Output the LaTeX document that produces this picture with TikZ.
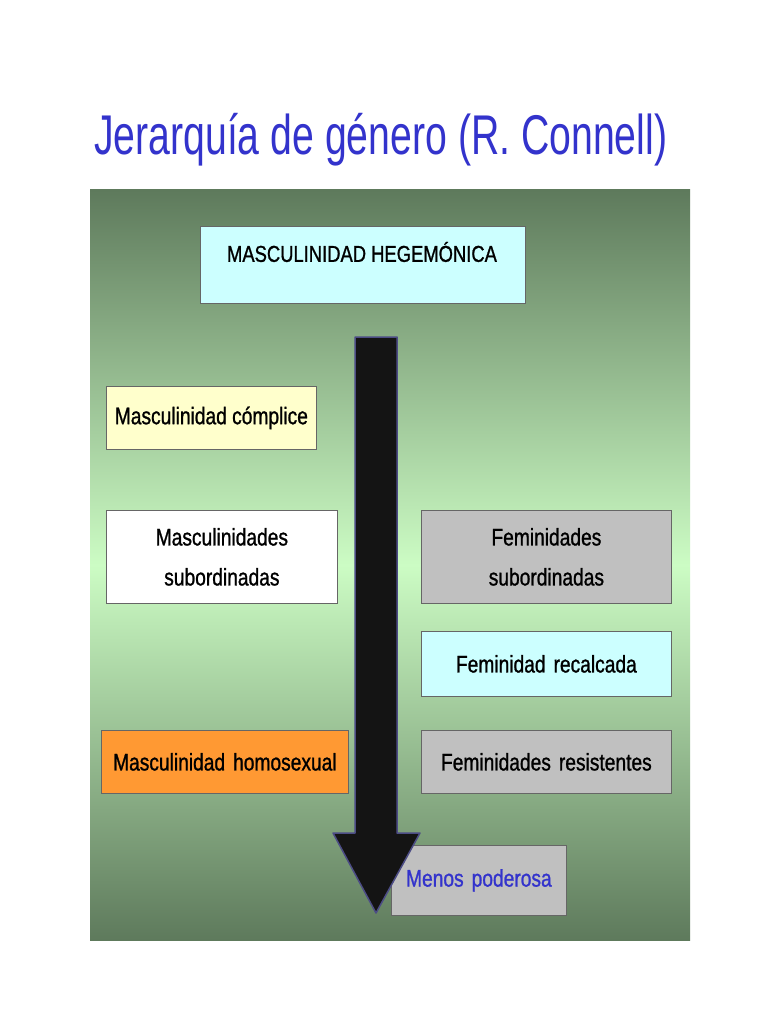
\documentclass[tikz,border=0pt]{standalone}
\usepackage{fontspec}
\newfontfamily\narrow[FakeStretch=0.7]{Liberation Sans}
\newfontfamily\boxfont[FakeStretch=0.8,FakeBold=1]{Liberation Sans}
\definecolor{ttl}{HTML}{3333CC}
\definecolor{gdark}{HTML}{5E7A5C}
\definecolor{glight}{HTML}{CCFCC4}
\definecolor{cyanbox}{HTML}{CCFFFF}
\definecolor{yelbox}{HTML}{FFFFCC}
\definecolor{graybox}{HTML}{C0C0C0}
\definecolor{orbox}{HTML}{FF9933}
\tikzset{bx/.style={draw=black!60,line width=0.8pt,anchor=north west,inner sep=0pt,align=center,font=\boxfont\fontsize{24}{40}\selectfont}}
\begin{document}
\begin{tikzpicture}[x=1pt,y=-1pt]
\useasboundingbox (0,0) rectangle (768,1024);
\fill[white] (0,0) rectangle (768,1024);
\node[anchor=west,text=ttl,font=\narrow\fontsize{56}{60}\selectfont,inner sep=0pt] (title) at (94,140) {Jerarquía de género (R. Connell)};
\shade[top color=gdark,bottom color=gdark,middle color=glight] (90,190) rectangle (690,940);
\node[bx,fill=cyanbox,minimum width=325pt,minimum height=77pt] (heg) at (200,226) {};
\node[font=\boxfont\fontsize{23}{28}\selectfont] (hegt) at (362,252) {MASCULINIDAD HEGEMÓNICA};
\node[bx,fill=yelbox,minimum width=210pt,minimum height=63pt] (comp) at (106,386) {Masculinidad cómplice};
\node[bx,fill=white,text width=231pt,minimum height=93pt] (msub) at (106,510) {Masculinidades\\subordinadas};
\node[bx,fill=graybox,text width=250pt,minimum height=93pt] (fsub) at (421,510) {Feminidades\\subordinadas};
\node[bx,fill=cyanbox,text width=250pt,minimum height=65pt] (frec) at (421,631) {Feminidad recalcada};
\node[bx,fill=orbox,text width=247pt,minimum height=63pt] (mhom) at (101,730) {Masculinidad homosexual};
\node[bx,fill=graybox,text width=250pt,minimum height=63pt] (fres) at (421,730) {Feminidades resistentes};
\node[bx,fill=graybox,text width=175pt,minimum height=70pt,text=ttl] (menos) at (391,845) {Menos poderosa};
\fill[black!92,draw=black!45!blue!40!gray,line width=1.5pt,line join=round] (355,337) -- (397,337) -- (397,833) -- (420,833) -- (376,913) -- (333,833) -- (355,833) -- cycle;
\end{tikzpicture}
\end{document}
